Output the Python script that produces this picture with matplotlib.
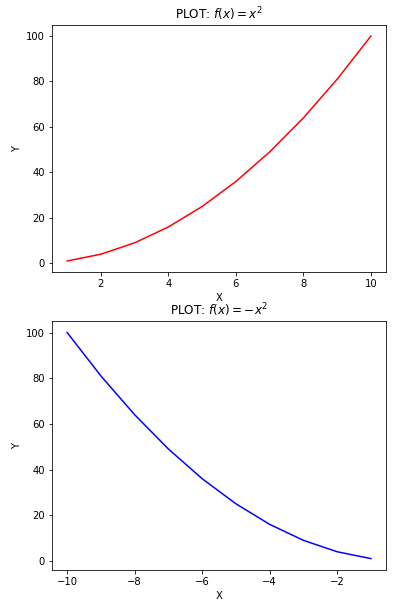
import matplotlib
matplotlib.use("Agg")
import matplotlib.pyplot as plt

x_top = [1, 2, 3, 4, 5, 6, 7, 8, 9, 10]
y_top = [1, 4, 9, 16, 25, 36, 49, 64, 81, 100]
x_bot = [-10, -9, -8, -7, -6, -5, -4, -3, -2, -1]
y_bot = [100, 81, 64, 49, 36, 25, 16, 9, 4, 1]

fig = plt.figure(figsize=(406/72, 605/72), dpi=72)
ax1 = fig.add_axes([0.128, 0.550, 0.823, 0.409])
ax2 = fig.add_axes([0.128, 0.058, 0.823, 0.411])

ax1.plot(x_top, y_top, color="red")
ax1.set_title(r"PLOT: $f(x) = x^2$")
ax1.set_xlabel("X")
ax1.set_ylabel("Y")

ax2.plot(x_bot, y_bot, color="blue")
ax2.set_title(r"PLOT: $f(x) = -x^2$")
ax2.set_xlabel("X")
ax2.set_ylabel("Y")

fig.savefig("out.png", dpi=72)
